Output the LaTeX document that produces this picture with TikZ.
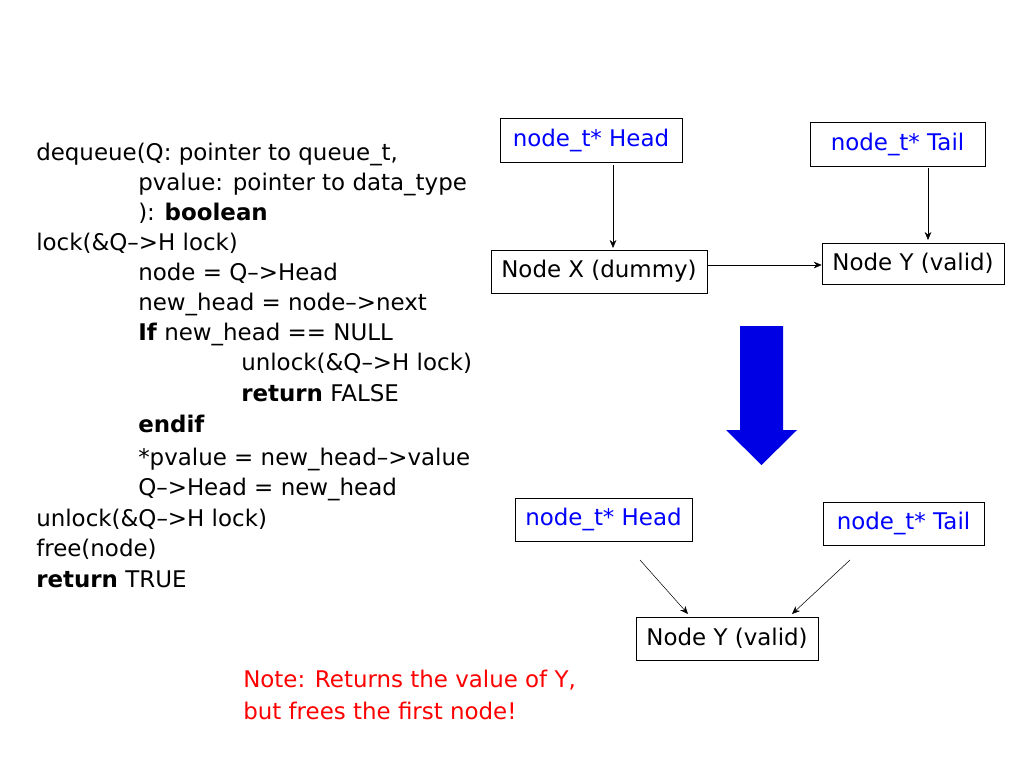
\documentclass[tikz,border=0pt]{standalone}
\usepackage{fontspec}
\setmainfont{DejaVu Sans}
\usetikzlibrary{arrows.meta}
\begin{document}
\begin{tikzpicture}[x=0.75pt,y=-0.75pt,
  code/.style={anchor=base west,inner sep=0pt,font=\fontsize{17.2}{20}\selectfont},
  box/.style={draw,thin,inner sep=0pt,font=\fontsize{17.2}{20}\selectfont},
  ptr/.style={-{Stealth[length=6pt,width=5pt]},thin}]
\useasboundingbox (0,0) rectangle (1024,768);
\node[code] (l1) at (36,160) {dequeue(Q: pointer to queue\_t,};
\node[code] (l2) at (138,190) {pvalue: pointer to data\_type};
\node[code] (l3) at (138,220) {): \textbf{boolean}};
\node[code] (l4) at (36,250) {lock(\&Q–>H lock)};
\node[code] (l5) at (138,280) {node = Q–>Head};
\node[code] (l6) at (138,310) {new\_head = node–>next};
\node[code] (l7) at (138,340) {\textbf{If} new\_head == NULL};
\node[code] (l8) at (241,370) {unlock(\&Q–>H lock)};
\node[code] (l9) at (241,401) {\textbf{return} FALSE};
\node[code] (l10) at (138,432) {\textbf{endif}};
\node[code] (l11) at (138,465) {*pvalue = new\_head–>value};
\node[code] (l12) at (138,495) {Q–>Head = new\_head};
\node[code] (l13) at (36,526) {unlock(\&Q–>H lock)};
\node[code] (l14) at (36,556) {free(node)};
\node[code] (l15) at (36,587) {\textbf{return} TRUE};
\node[code,text=red] (n1) at (243,687) {Note: Returns the value of Y,};
\node[code,text=red] (n2) at (243,719) {but frees the first node!};
% top
\node[box,text=blue,minimum width=182*0.75pt,minimum height=44*0.75pt] (h1) at (591,140) {node\_t* Head};
\node[box,text=blue,minimum width=175*0.75pt,minimum height=44*0.75pt] (t1) at (897.5,144) {node\_t* Tail};
\node[box,minimum width=216*0.75pt,minimum height=43*0.75pt] (x1) at (599,271.5) {Node X (dummy)};
\node[box,minimum width=182*0.75pt,minimum height=41*0.75pt] (y1) at (913,263.5) {Node Y (valid)};
\coordinate (hs) at (613,165);
\coordinate (ts) at (928,168);
\draw[ptr] (hs) -- (613,248);
\draw[ptr] (ts) -- (928,240);
\draw[ptr] (x1.east |- 0,265) -- (y1.west |- 0,265);
% blue arrow
\fill[blue!90!black] (740,326) -- (783,326) -- (783,430) -- (797,430) -- (761.5,465) -- (726,430) -- (740,430) -- cycle;
% bottom
\node[box,text=blue,minimum width=177*0.75pt,minimum height=43*0.75pt] (h2) at (603.5,519.5) {node\_t* Head};
\node[box,text=blue,minimum width=161*0.75pt,minimum height=43*0.75pt] (t2) at (903.5,523.5) {node\_t* Tail};
\node[box,minimum width=182*0.75pt,minimum height=43*0.75pt] (y2) at (727,638.5) {Node Y (valid)};
\coordinate (a1) at (640,560);
\coordinate (a2) at (850,560);
\draw[ptr] (a1) -- (688,614);
\draw[ptr] (a2) -- (792,614);
\end{tikzpicture}
\end{document}
